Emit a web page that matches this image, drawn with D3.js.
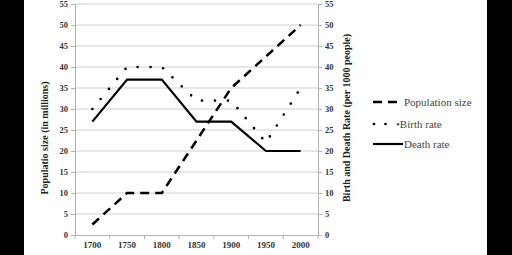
<!DOCTYPE html>
<html>
<head>
<meta charset="utf-8">
<script src="https://cdn.jsdelivr.net/npm/d3@7/dist/d3.min.js"></script>
<style>
  body { margin: 0; background: #000; }
  svg { display: block; }
  .tick text { font-family: "Liberation Serif", serif; font-weight: bold; fill: #333; }
</style>
</head>
<body>
<div id="chart"></div>
<script>
var years = ["1700", "1750", "1800", "1850", "1900", "1950", "2000"];
var population = [2.5, 10, 10, 22.5, 35, 42.5, 50];
var birthRate = [30, 40, 40, 32, 32, 22, 35];
var deathRate = [27, 37, 37, 27, 27, 20, 20];
var yTicks = [0, 5, 10, 15, 20, 25, 30, 35, 40, 45, 50, 55];

var width = 512, height = 255;

var svg = d3.select("#chart").append("svg")
    .attr("width", width)
    .attr("height", height);

// black frame + white page
svg.append("rect").attr("width", width).attr("height", height).attr("fill", "#000");
svg.append("rect").attr("x", 24).attr("y", 0).attr("width", 463).attr("height", height).attr("fill", "#fff");

var x = d3.scaleBand().domain(years).range([75, 318]);
var y = d3.scaleLinear().domain([0, 55]).range([235, 4]);
var cx = function(d) { return x(d) + x.bandwidth() / 2; };

// gridlines
svg.append("g").selectAll("line")
    .data(yTicks.slice(1))
  .enter().append("line")
    .attr("x1", 75).attr("x2", 318)
    .attr("y1", function(d) { return y(d); })
    .attr("y2", function(d) { return y(d); })
    .attr("stroke", "#cfcfcf")
    .attr("stroke-width", 1);

// left axis
var yAxisL = svg.append("g")
    .attr("transform", "translate(75,0)")
    .call(d3.axisLeft(y).tickValues(yTicks).tickSize(4).tickPadding(3));
yAxisL.select(".domain").attr("stroke", "#b0b0b0");
yAxisL.selectAll(".tick line").attr("stroke", "#b0b0b0");
yAxisL.selectAll(".tick text").style("font-size", "8.5px");

// right axis
var yAxisR = svg.append("g")
    .attr("transform", "translate(318,0)")
    .call(d3.axisRight(y).tickValues(yTicks).tickSize(4).tickPadding(3));
yAxisR.select(".domain").attr("stroke", "#b0b0b0");
yAxisR.selectAll(".tick line").attr("stroke", "#b0b0b0");
yAxisR.selectAll(".tick text").style("font-size", "8.5px");

// bottom axis: labels at centres, ticks between categories
var xAxis = svg.append("g")
    .attr("transform", "translate(0,235)")
    .call(d3.axisBottom(x).tickSize(0).tickPadding(7));
xAxis.select(".domain").attr("stroke", "#b0b0b0");
xAxis.selectAll(".tick text").style("font-size", "9px");

svg.append("g").selectAll("line")
    .data(years.concat(["end"]))
  .enter().append("line")
    .attr("x1", function(d, i) { return i < years.length ? x(d) : x.range()[1]; })
    .attr("x2", function(d, i) { return i < years.length ? x(d) : x.range()[1]; })
    .attr("y1", 235).attr("y2", 239)
    .attr("stroke", "#b0b0b0");

var line = function(vals) {
  return d3.line()
    .x(function(d, i) { return cx(years[i]); })
    .y(function(d) { return y(d); })(vals);
};

// population size (dashed)
svg.append("path")
    .attr("d", line(population))
    .attr("fill", "none")
    .attr("stroke", "#000")
    .attr("stroke-width", 2.5)
    .attr("stroke-dasharray", "9,6");

// birth rate (round dots)
svg.append("path")
    .attr("d", line(birthRate))
    .attr("fill", "none")
    .attr("stroke", "#000")
    .attr("stroke-width", 2.7)
    .attr("stroke-linecap", "round")
    .attr("stroke-dasharray", "0,13");

// death rate (solid)
svg.append("path")
    .attr("d", line(deathRate))
    .attr("fill", "none")
    .attr("stroke", "#000")
    .attr("stroke-width", 2.2);

// axis titles
svg.append("text")
    .attr("transform", "translate(48,138)rotate(-90)")
    .attr("text-anchor", "middle")
    .style("font-family", "Liberation Serif, serif")
    .style("font-weight", "bold")
    .style("font-size", "10px")
    .attr("fill", "#222")
    .text("Populatio size (in millions)");

svg.append("text")
    .attr("transform", "translate(350,118)rotate(-90)")
    .attr("text-anchor", "middle")
    .style("font-family", "Liberation Serif, serif")
    .style("font-weight", "bold")
    .style("font-size", "10px")
    .attr("fill", "#222")
    .text("Birth and Death Rate (per 1000 people)");

// legend
var legendItems = [
  { name: "Population size", y: 102, dash: "9,6", cap: "butt", w: 2.5 },
  { name: "\u2022Birth rate", y: 124, dash: "0,11.5", cap: "round", w: 2.7 },
  { name: "Death rate", y: 144, dash: null, cap: "butt", w: 2.2 }
];

var legend = svg.selectAll(".legend")
    .data(legendItems)
  .enter().append("g")
    .attr("class", "legend")
    .attr("transform", function(d) { return "translate(0," + d.y + ")"; });

legend.append("line")
    .attr("x1", function(d, i) { return i == 1 ? 374 : 373; })
    .attr("x2", function(d, i) { return i == 1 ? 387 : (i == 0 ? 400 : 403); })
    .attr("y1", 0).attr("y2", 0)
    .attr("stroke", "#000")
    .attr("stroke-width", function(d) { return d.w; })
    .attr("stroke-linecap", function(d) { return d.cap; })
    .attr("stroke-dasharray", function(d) { return d.dash; });

legend.append("text")
    .attr("x", function(d, i) { return i == 1 ? 396 : 404; })
    .attr("y", 0)
    .attr("dy", "0.35em")
    .style("font-family", "Liberation Serif, serif")
    .style("font-size", "11px")
    .attr("fill", "#444")
    .text(function(d) { return d.name; });
</script>
</body>
</html>
